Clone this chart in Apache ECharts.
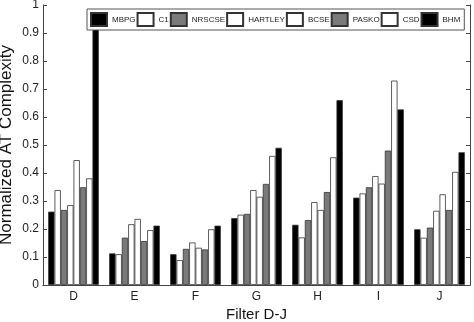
<!DOCTYPE html>
<html>
<head>
<meta charset="utf-8">
<script src="https://cdn.jsdelivr.net/npm/echarts@6/dist/echarts.min.js"></script>
<style>
  html, body { margin: 0; padding: 0; background: #fff; }
  #chart { width: 474px; height: 322px; }
</style>
</head>
<body>
<div id="chart"></div>
<script>
const categories = ['D', 'E', 'F', 'G', 'H', 'I', 'J'];
const seriesNames = ['MBPG', 'C1', 'NRSCSE', 'HARTLEY', 'BCSE', 'PASKO', 'CSD', 'BHM'];
const mbpg = [0.262, 0.113, 0.110, 0.239, 0.215, 0.312, 0.199];
const c1 = [0.339, 0.110, 0.089, 0.251, 0.170, 0.327, 0.169];
const nrscse = [0.268, 0.169, 0.129, 0.254, 0.232, 0.349, 0.205];
const hartley = [0.285, 0.217, 0.152, 0.339, 0.296, 0.389, 0.265];
const bcse = [0.446, 0.236, 0.133, 0.315, 0.268, 0.362, 0.324];
const pasko = [0.349, 0.157, 0.127, 0.361, 0.332, 0.480, 0.268];
const csd = [0.381, 0.196, 0.199, 0.461, 0.456, 0.730, 0.404];
const bhm = [0.930, 0.212, 0.212, 0.490, 0.660, 0.627, 0.474];

const values = [mbpg, c1, nrscse, hartley, bcse, pasko, csd, bhm];
const fills = ['#000000', '#ffffff', '#7a7a7a', '#ffffff', '#ffffff', '#7a7a7a', '#ffffff', '#000000'];

const axisColor = '#444';
const font = 'Liberation Sans, Arial, sans-serif';

const chart = echarts.init(document.getElementById('chart'));
chart.setOption({
  animation: false,
  grid: { left: 43, right: 4, top: 5, bottom: 37, outerBoundsMode: 'none' },
  legend: {
    data: seriesNames,
    left: 87,
    top: 9,
    width: 400,
    padding: [3, 4, 3, 3],
    itemGap: 1,
    itemWidth: 16,
    itemHeight: 13,
    icon: 'rect',
    borderColor: '#555',
    borderWidth: 1,
    backgroundColor: '#fff',
    textStyle: { fontSize: 8, color: '#222', fontFamily: font }
  },
  xAxis: [{
    type: 'category',
    data: categories,
    name: 'Filter D-J',
    nameLocation: 'middle',
    nameGap: 22,
    nameMoveOverlap: false,
    nameTextStyle: { fontSize: 15, color: '#111', fontFamily: font },
    axisLine: { lineStyle: { color: axisColor } },
    axisTick: { inside: true, alignWithLabel: true, length: 4, lineStyle: { color: axisColor } },
    axisLabel: { fontSize: 12, color: '#222', margin: 6, fontFamily: font }
  }, {
    type: 'category',
    data: categories,
    position: 'top',
    axisLine: { lineStyle: { color: axisColor } },
    axisTick: { inside: true, alignWithLabel: true, length: 4, lineStyle: { color: axisColor } },
    axisLabel: { show: false }
  }],
  yAxis: [{
    type: 'value',
    min: 0,
    max: 1,
    interval: 0.1,
    name: 'Normalized AT Complexity',
    nameLocation: 'middle',
    nameGap: 28,
    nameMoveOverlap: false,
    nameTextStyle: { fontSize: 17, color: '#111', fontFamily: font },
    axisLine: { show: true, lineStyle: { color: axisColor } },
    axisTick: { show: true, inside: true, length: 4, lineStyle: { color: axisColor } },
    axisLabel: { fontSize: 12, color: '#222', margin: 4, fontFamily: font },
    splitLine: { show: false }
  }, {
    type: 'value',
    min: 0,
    max: 1,
    interval: 0.1,
    position: 'right',
    axisLine: { show: true, lineStyle: { color: axisColor } },
    axisTick: { show: true, inside: true, length: 4, lineStyle: { color: axisColor } },
    axisLabel: { show: false },
    splitLine: { show: false }
  }],
  series: seriesNames.map((name, i) => ({
    name: name,
    type: 'bar',
    data: values[i],
    barGap: '0%',
    barCategoryGap: '17%',
    itemStyle: { color: fills[i], borderColor: '#333', borderWidth: 0.8 }
  }))
});
</script>
</body>
</html>
